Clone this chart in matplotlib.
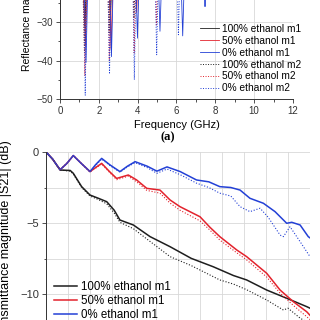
import matplotlib
matplotlib.use('Agg')
import matplotlib.pyplot as plt
from matplotlib.ticker import MultipleLocator

plt.rcParams['font.family'] = ['Liberation Sans', 'DejaVu Sans']

# ---- top panel (a): reflectance, only the lower part is in view
t100m1_f = [0, 0.05, 0.3, 1.18, 1.28, 1.38, 2.5, 2.6, 2.7, 3.82, 3.9, 3.98, 12]
t100m1_db = [-27, -15, -12, -18, -31, -18, -17, -28, -17, -16, -24, -16, -10]
t50m1_f = [0, 0.05, 1.2, 1.31, 1.42, 2.53, 2.63, 2.73, 3.87, 3.95, 4.03, 5.03, 5.1, 5.17, 12]
t50m1_db = [-25, -14, -18, -36, -18, -18, -37, -18, -17, -27.5, -17, -16, -24, -16, -10]
t0m1_f = [0, 0.05, 1.24, 1.34, 1.44, 2.55, 2.65, 2.75, 3.9, 3.99, 4.08, 5.06, 5.15, 5.24,
          6.23, 6.32, 6.41, 7.4, 7.47, 7.54, 12]
t0m1_db = [-24, -14, -18, -40.5, -18, -18, -39, -18, -18, -34.2, -18, -18, -32.4, -18,
           -18, -33.6, -18, -18, -26, -18, -12]
t100m2_f = [0, 0.05, 1.17, 1.26, 1.35, 2.45, 2.53, 2.61, 3.74, 3.81, 3.88, 12]
t100m2_db = [-26, -14, -18, -38, -18, -18, -33, -18, -17, -29, -17, -10]
t50m2_f = [0, 0.05, 1.2, 1.28, 1.36, 2.46, 2.54, 2.62, 3.76, 3.82, 3.9, 4.9, 4.97, 5.04, 12]
t50m2_db = [-25, -14, -18, -44, -18, -18, -40, -18, -18, -38, -18, -17, -31, -17, -10]
t0m2_f = [0, 0.05, 1.22, 1.3, 1.38, 2.47, 2.55, 2.63, 3.75, 3.83, 3.91, 4.9, 4.98, 5.06,
          6.03, 6.1, 6.17, 12]
t0m2_db = [-24, -14, -18, -49, -18, -18, -43.5, -18, -18, -45, -18, -18, -38.5, -18,
           -18, -33.3, -18, -12]

# ---- bottom panel: transmittance |S21|
b100m1_f = [0, 0.3, 0.64, 1.1, 1.24, 1.62, 2.0, 2.38, 2.76, 3.1, 3.36, 3.97, 4.73, 5.64,
            6.6, 7.6, 8.52, 9.12, 10.03, 10.94, 11.85, 12]
b100m1_db = [0, -0.5, -1.27, -1.3, -1.5, -2.44, -3.03, -3.26, -3.5, -4.1, -4.79, -5.14,
             -5.96, -6.67, -7.49, -8.08, -8.7, -9.01, -9.72, -10.3, -10.89, -11.0]
b50m1_f = [0, 0.3, 0.64, 0.95, 1.24, 1.6, 2.0, 2.25, 2.53, 2.9, 3.21, 3.74, 4.12, 4.58,
           5.18, 5.64, 6.09, 7.0, 7.45, 7.9, 8.67, 9.12, 10.03, 10.64, 11.24, 11.85, 12]
b50m1_db = [0, -0.5, -1.25, -0.8, -0.25, -0.8, -1.38, -1.1, -0.8, -1.4, -1.86, -1.62,
            -1.97, -2.56, -2.68, -3.38, -3.85, -4.56, -5.3, -5.96, -6.9, -7.37, -8.54,
            -9.72, -10.54, -11.25, -11.5]
b0m1_f = [0, 0.3, 0.64, 0.95, 1.24, 1.6, 2.0, 2.25, 2.53, 2.9, 3.36, 3.7, 4.05, 4.6, 5.04,
          5.5, 6.1, 6.84, 7.4, 7.9, 8.4, 8.82, 9.27, 9.88, 10.41, 10.94, 11.17, 11.55,
          11.92, 12]
b0m1_db = [0, -0.5, -1.25, -0.8, -0.25, -0.8, -1.38, -0.9, -0.45, -0.9, -1.38, -1.0,
           -0.68, -1.0, -1.35, -1.05, -1.38, -1.97, -2.1, -2.44, -2.5, -2.68, -3.26,
           -3.61, -4.2, -5.02, -4.95, -5.14, -5.96, -6.05]
b100m2_f = [0, 0.3, 0.64, 1.1, 1.24, 1.62, 2.0, 2.38, 2.76, 3.1, 3.36, 3.97, 4.73, 5.64,
            6.6, 7.9, 8.52, 9.12, 10.03, 10.79, 11.0, 11.55, 12]
b100m2_db = [0, -0.5, -1.27, -1.35, -1.55, -2.5, -3.1, -3.35, -3.65, -4.3, -4.95, -5.4,
             -6.3, -7.37, -8.0, -9.01, -9.3, -9.7, -10.42, -11.13, -11.0, -11.7, -12.1]
b50m2_f = [0, 0.3, 0.64, 0.95, 1.24, 1.6, 2.0, 2.53, 3.21, 3.74, 4.12, 4.58, 5.18, 5.64,
           6.09, 7.0, 7.45, 7.9, 8.67, 9.12, 10.03, 10.64, 11.24, 11.85, 12]
b50m2_db = [0, -0.5, -1.25, -0.8, -0.25, -0.8, -1.4, -0.85, -1.95, -1.7, -2.1, -2.7,
            -2.9, -3.6, -4.1, -4.85, -5.5, -6.2, -7.1, -7.6, -8.8, -9.95, -10.8, -11.6,
            -11.8]
b0m2_f = [0, 0.3, 0.64, 0.95, 1.24, 1.6, 2.0, 2.25, 2.53, 2.9, 3.36, 3.7, 4.05, 4.6, 5.04,
          5.5, 6.1, 6.85, 7.4, 7.9, 8.4, 8.82, 9.27, 9.73, 10.1, 10.64, 10.79, 11.09,
          11.5, 12]
b0m2_db = [0, -0.5, -1.25, -0.8, -0.25, -0.8, -1.4, -0.95, -0.5, -0.95, -1.42, -1.05,
           -0.75, -1.1, -1.5, -1.2, -1.6, -2.2, -2.5, -2.9, -3.1, -3.85, -4.2, -3.96,
           -4.6, -5.85, -5.96, -5.26, -6.2, -7.37]

labels = ['100% ethanol m1', '50% ethanol m1', '0% ethanol m1',
          '100% ethanol m2', '50% ethanol m2', '0% ethanol m2']

black = '#1e1e1e'
red = '#e3222c'
blue = '#2340d6'
dots = (0, (1, 1.6))
grid_c = '#d8d8d8'

fig = plt.figure(figsize=(3.2, 3.2), dpi=100)
fig.patch.set_facecolor('white')

# top axes
ax1 = fig.add_axes([0.1875, 0.6906, 0.728, 0.6617])
ax1.plot(t100m1_f, t100m1_db, color=black, lw=0.6, label=labels[0])
ax1.plot(t50m1_f, t50m1_db, color=red, lw=0.6, label=labels[1])
ax1.plot(t0m1_f, t0m1_db, color=blue, lw=0.6, label=labels[2])
ax1.plot(t100m2_f, t100m2_db, color=black, lw=0.7, ls=dots, label=labels[3])
ax1.plot(t50m2_f, t50m2_db, color=red, lw=0.7, ls=dots, label=labels[4])
ax1.plot(t0m2_f, t0m2_db, color=blue, lw=0.7, ls=dots, label=labels[5])
ax1.set_xlim(0, 12)
ax1.set_ylim(-50, 5)
ax1.xaxis.set_major_locator(MultipleLocator(2))
ax1.xaxis.set_minor_locator(MultipleLocator(1))
ax1.yaxis.set_major_locator(MultipleLocator(10))
ax1.yaxis.set_minor_locator(MultipleLocator(5))
ax1.grid(True, which='major', color=grid_c, lw=0.6)
ax1.set_axisbelow(True)
for s in ['top', 'right']:
    ax1.spines[s].set_visible(False)
for s in ['left', 'bottom']:
    ax1.spines[s].set_color('#333333')
    ax1.spines[s].set_linewidth(0.7)
ax1.tick_params(which='both', direction='out', labelsize=7, colors='#333333', width=0.6)
ax1.tick_params(which='major', length=3, pad=2)
ax1.tick_params(which='minor', length=1.8)
ax1.set_xlabel('Frequency (GHz)', fontsize=8, labelpad=3)
ax1.set_ylabel('Reflectance magnitude |S11| (dB)', fontsize=7.5, labelpad=3)
ax1.legend(loc='upper left', bbox_to_anchor=(0.58, 0.378), frameon=False, fontsize=7.3,
           handlelength=1.9, handletextpad=0.3, labelspacing=0.18, borderpad=0)

fig.text(0.525, 0.572, '(a)', ha='center', va='center', fontsize=9, weight='bold',
         family=['Liberation Serif', 'DejaVu Serif'])

# bottom axes
ax2 = fig.add_axes([0.1438, -0.0297, 0.825, 0.5547])
ax2.plot(b100m1_f, b100m1_db, color=black, lw=1.1, label=labels[0])
ax2.plot(b50m1_f, b50m1_db, color=red, lw=1.1, label=labels[1])
ax2.plot(b0m1_f, b0m1_db, color=blue, lw=1.1, label=labels[2])
ax2.plot(b100m2_f, b100m2_db, color=black, lw=0.8, ls=dots, label=labels[3])
ax2.plot(b50m2_f, b50m2_db, color=red, lw=0.8, ls=dots, label=labels[4])
ax2.plot(b0m2_f, b0m2_db, color=blue, lw=0.8, ls=dots, label=labels[5])
ax2.set_xlim(0, 12)
ax2.set_ylim(-12.5, 0)
ax2.xaxis.set_major_locator(MultipleLocator(2))
ax2.xaxis.set_minor_locator(MultipleLocator(1))
ax2.yaxis.set_major_locator(MultipleLocator(5))
ax2.yaxis.set_minor_locator(MultipleLocator(2.5))
ax2.grid(True, which='both', color=grid_c, lw=0.6)
ax2.set_axisbelow(True)
for s in ['top', 'right']:
    ax2.spines[s].set_visible(False)
for s in ['left', 'bottom']:
    ax2.spines[s].set_color('#333333')
    ax2.spines[s].set_linewidth(0.7)
ax2.tick_params(which='both', direction='out', labelsize=8, colors='#333333', width=0.6)
ax2.tick_params(which='major', length=3, pad=2)
ax2.tick_params(which='minor', length=1.8)
ax2.set_ylabel('Transmittance magnitude |S21| (dB)', fontsize=9, labelpad=6)
ax2.legend(loc='upper left', bbox_to_anchor=(0.01, 0.304), frameon=False, fontsize=8.3,
           handlelength=2.0, handletextpad=0.3, labelspacing=0.18, borderpad=0)

fig.savefig('out.png', dpi=100, facecolor='white')
